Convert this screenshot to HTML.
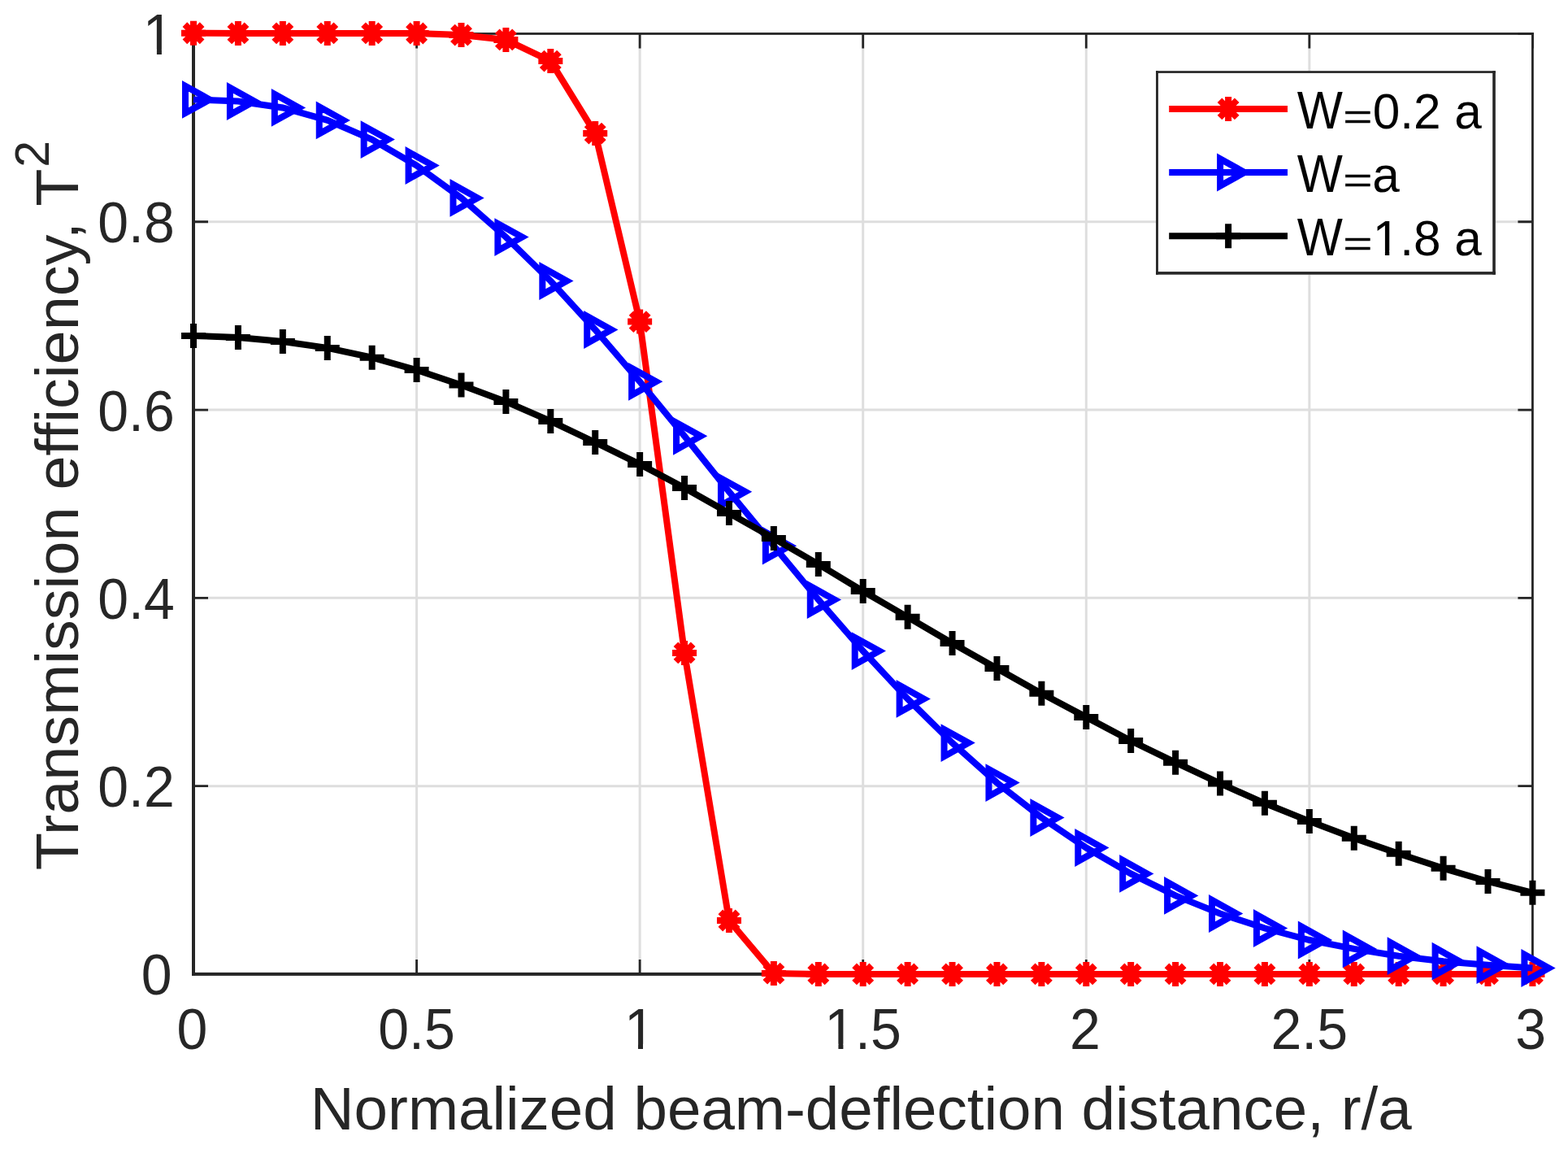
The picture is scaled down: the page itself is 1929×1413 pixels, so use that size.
<!DOCTYPE html>
<html><head><meta charset="utf-8"><title>Transmission efficiency plot</title>
<style>html,body{margin:0;padding:0;background:#fff;}svg{display:block;}
text{font-family:"Liberation Sans",Arial,Helvetica,sans-serif;}</style></head>
<body>
<svg width="1929" height="1413" viewBox="0 0 1929 1413">
<rect x="0" y="0" width="1929" height="1413" fill="#ffffff"/>
<path d="M512.57 41.45V1197.93M787.13 41.45V1197.93M1061.7 41.45V1197.93M1336.27 41.45V1197.93M1610.83 41.45V1197.93M238 966.63H1885.4M238 735.34H1885.4M238 504.04H1885.4M238 272.75H1885.4" stroke="#dedede" stroke-width="3" fill="none"/>
<path d="M238 1197.93V1179.93M238 41.45V59.45M512.57 1197.93V1179.93M512.57 41.45V59.45M787.13 1197.93V1179.93M787.13 41.45V59.45M1061.7 1197.93V1179.93M1061.7 41.45V59.45M1336.27 1197.93V1179.93M1336.27 41.45V59.45M1610.83 1197.93V1179.93M1610.83 41.45V59.45M1885.4 1197.93V1179.93M1885.4 41.45V59.45M238 1197.93H256M1885.4 1197.93H1867.4M238 966.63H256M1885.4 966.63H1867.4M238 735.34H256M1885.4 735.34H1867.4M238 504.04H256M1885.4 504.04H1867.4M238 272.75H256M1885.4 272.75H1867.4M238 41.45H256M1885.4 41.45H1867.4" stroke="#262626" stroke-width="2.8" fill="none"/>
<rect x="236" y="40.05" width="4" height="1159.88" fill="#262626"/>
<rect x="236" y="1195.93" width="1650.8" height="4" fill="#262626"/>
<rect x="236" y="40.05" width="1650.8" height="2.8" fill="#262626"/>
<rect x="1884" y="40.05" width="2.8" height="1159.88" fill="#262626"/>
<polyline points="238,40.8 292.91,40.9 347.83,40.9 402.74,40.9 457.65,40.9 512.57,41 567.48,43.1 622.39,48.9 677.31,75.1 732.22,164.1 787.13,395.6 842.05,802.9 896.96,1132 951.87,1197.1 1006.79,1197.93 1061.7,1197.93 1116.61,1197.93 1171.53,1197.93 1226.44,1197.93 1281.35,1197.93 1336.27,1197.93 1391.18,1197.93 1446.09,1197.93 1501.01,1197.93 1555.92,1197.93 1610.83,1197.93 1665.75,1197.93 1720.66,1197.93 1775.57,1197.93 1830.49,1197.93 1885.4,1197.93" fill="none" stroke="#ff0000" stroke-width="8" stroke-linejoin="miter" stroke-linecap="butt"/><path d="M223 40.8H253M238 25.8V55.8M227.39 30.19L248.61 51.41M227.39 51.41L248.61 30.19M277.91 40.9H307.91M292.91 25.9V55.9M282.31 30.29L303.52 51.51M282.31 51.51L303.52 30.29M332.83 40.9H362.83M347.83 25.9V55.9M337.22 30.29L358.43 51.51M337.22 51.51L358.43 30.29M387.74 40.9H417.74M402.74 25.9V55.9M392.13 30.29L413.35 51.51M392.13 51.51L413.35 30.29M442.65 40.9H472.65M457.65 25.9V55.9M447.05 30.29L468.26 51.51M447.05 51.51L468.26 30.29M497.57 41H527.57M512.57 26V56M501.96 30.39L523.17 51.61M501.96 51.61L523.17 30.39M552.48 43.1H582.48M567.48 28.1V58.1M556.87 32.49L578.09 53.71M556.87 53.71L578.09 32.49M607.39 48.9H637.39M622.39 33.9V63.9M611.79 38.29L633 59.51M611.79 59.51L633 38.29M662.31 75.1H692.31M677.31 60.1V90.1M666.7 64.49L687.91 85.71M666.7 85.71L687.91 64.49M717.22 164.1H747.22M732.22 149.1V179.1M721.61 153.49L742.83 174.71M721.61 174.71L742.83 153.49M772.13 395.6H802.13M787.13 380.6V410.6M776.53 384.99L797.74 406.21M776.53 406.21L797.74 384.99M827.05 802.9H857.05M842.05 787.9V817.9M831.44 792.29L852.65 813.51M831.44 813.51L852.65 792.29M881.96 1132H911.96M896.96 1117V1147M886.35 1121.39L907.57 1142.61M886.35 1142.61L907.57 1121.39M936.87 1197.1H966.87M951.87 1182.1V1212.1M941.27 1186.49L962.48 1207.71M941.27 1207.71L962.48 1186.49M991.79 1197.93H1021.79M1006.79 1182.93V1212.93M996.18 1187.32L1017.39 1208.54M996.18 1208.54L1017.39 1187.32M1046.7 1197.93H1076.7M1061.7 1182.93V1212.93M1051.09 1187.32L1072.31 1208.54M1051.09 1208.54L1072.31 1187.32M1101.61 1197.93H1131.61M1116.61 1182.93V1212.93M1106.01 1187.32L1127.22 1208.54M1106.01 1208.54L1127.22 1187.32M1156.53 1197.93H1186.53M1171.53 1182.93V1212.93M1160.92 1187.32L1182.13 1208.54M1160.92 1208.54L1182.13 1187.32M1211.44 1197.93H1241.44M1226.44 1182.93V1212.93M1215.83 1187.32L1237.05 1208.54M1215.83 1208.54L1237.05 1187.32M1266.35 1197.93H1296.35M1281.35 1182.93V1212.93M1270.75 1187.32L1291.96 1208.54M1270.75 1208.54L1291.96 1187.32M1321.27 1197.93H1351.27M1336.27 1182.93V1212.93M1325.66 1187.32L1346.87 1208.54M1325.66 1208.54L1346.87 1187.32M1376.18 1197.93H1406.18M1391.18 1182.93V1212.93M1380.57 1187.32L1401.79 1208.54M1380.57 1208.54L1401.79 1187.32M1431.09 1197.93H1461.09M1446.09 1182.93V1212.93M1435.49 1187.32L1456.7 1208.54M1435.49 1208.54L1456.7 1187.32M1486.01 1197.93H1516.01M1501.01 1182.93V1212.93M1490.4 1187.32L1511.61 1208.54M1490.4 1208.54L1511.61 1187.32M1540.92 1197.93H1570.92M1555.92 1182.93V1212.93M1545.31 1187.32L1566.53 1208.54M1545.31 1208.54L1566.53 1187.32M1595.83 1197.93H1625.83M1610.83 1182.93V1212.93M1600.23 1187.32L1621.44 1208.54M1600.23 1208.54L1621.44 1187.32M1650.75 1197.93H1680.75M1665.75 1182.93V1212.93M1655.14 1187.32L1676.35 1208.54M1655.14 1208.54L1676.35 1187.32M1705.66 1197.93H1735.66M1720.66 1182.93V1212.93M1710.05 1187.32L1731.27 1208.54M1710.05 1208.54L1731.27 1187.32M1760.57 1197.93H1790.57M1775.57 1182.93V1212.93M1764.97 1187.32L1786.18 1208.54M1764.97 1208.54L1786.18 1187.32M1815.49 1197.93H1845.49M1830.49 1182.93V1212.93M1819.88 1187.32L1841.09 1208.54M1819.88 1208.54L1841.09 1187.32M1870.4 1197.93H1900.4M1885.4 1182.93V1212.93M1874.79 1187.32L1896.01 1208.54M1874.79 1208.54L1896.01 1187.32" fill="none" stroke="#ff0000" stroke-width="8" stroke-linejoin="miter" stroke-miterlimit="10" stroke-linecap="butt"/>
<polyline points="238,122.45 292.91,124.5 347.83,132.45 402.74,147.9 457.65,171.6 512.57,203.5 567.48,243.4 622.39,291.6 677.31,345.5 732.22,405.5 787.13,469.3 842.05,536.3 896.96,604.8 951.87,671.2 1006.79,737.5 1061.7,800.6 1116.61,859.4 1171.53,913.6 1226.44,962.6 1281.35,1005.5 1336.27,1042.5 1391.18,1074.4 1446.09,1101.4 1501.01,1123.5 1555.92,1141.5 1610.83,1156 1665.75,1166.9 1720.66,1175.7 1775.57,1182.2 1830.49,1186.7 1885.4,1190.5" fill="none" stroke="#0000ff" stroke-width="8" stroke-linejoin="miter" stroke-linecap="butt"/><path d="M258 122.45L228 105.85L228 139.05ZM312.91 124.5L282.91 107.9L282.91 141.1ZM367.83 132.45L337.83 115.85L337.83 149.05ZM422.74 147.9L392.74 131.3L392.74 164.5ZM477.65 171.6L447.65 155L447.65 188.2ZM532.57 203.5L502.57 186.9L502.57 220.1ZM587.48 243.4L557.48 226.8L557.48 260ZM642.39 291.6L612.39 275L612.39 308.2ZM697.31 345.5L667.31 328.9L667.31 362.1ZM752.22 405.5L722.22 388.9L722.22 422.1ZM807.13 469.3L777.13 452.7L777.13 485.9ZM862.05 536.3L832.05 519.7L832.05 552.9ZM916.96 604.8L886.96 588.2L886.96 621.4ZM971.87 671.2L941.87 654.6L941.87 687.8ZM1026.79 737.5L996.79 720.9L996.79 754.1ZM1081.7 800.6L1051.7 784L1051.7 817.2ZM1136.61 859.4L1106.61 842.8L1106.61 876ZM1191.53 913.6L1161.53 897L1161.53 930.2ZM1246.44 962.6L1216.44 946L1216.44 979.2ZM1301.35 1005.5L1271.35 988.9L1271.35 1022.1ZM1356.27 1042.5L1326.27 1025.9L1326.27 1059.1ZM1411.18 1074.4L1381.18 1057.8L1381.18 1091ZM1466.09 1101.4L1436.09 1084.8L1436.09 1118ZM1521.01 1123.5L1491.01 1106.9L1491.01 1140.1ZM1575.92 1141.5L1545.92 1124.9L1545.92 1158.1ZM1630.83 1156L1600.83 1139.4L1600.83 1172.6ZM1685.75 1166.9L1655.75 1150.3L1655.75 1183.5ZM1740.66 1175.7L1710.66 1159.1L1710.66 1192.3ZM1795.57 1182.2L1765.57 1165.6L1765.57 1198.8ZM1850.49 1186.7L1820.49 1170.1L1820.49 1203.3ZM1905.4 1190.5L1875.4 1173.9L1875.4 1207.1Z" fill="none" stroke="#0000ff" stroke-width="8" stroke-linejoin="miter" stroke-miterlimit="10" stroke-linecap="butt"/>
<polyline points="238,412.97 292.91,414.9 347.83,420 402.74,427.9 457.65,439.7 512.57,455 567.48,473.45 622.39,493.9 677.31,517.9 732.22,544 787.13,570.9 842.05,599.9 896.96,631 951.87,661.9 1006.79,693.9 1061.7,726.95 1116.61,758.85 1171.53,790.95 1226.44,822.1 1281.35,852.85 1336.27,881.9 1391.18,911 1446.09,937.7 1501.01,963.4 1555.92,987.8 1610.83,1009.9 1665.75,1030.8 1720.66,1049.8 1775.57,1067.8 1830.49,1084 1885.4,1097.8" fill="none" stroke="#000000" stroke-width="8" stroke-linejoin="miter" stroke-linecap="butt"/><path d="M223 412.97H253M238 397.97V427.97M277.91 414.9H307.91M292.91 399.9V429.9M332.83 420H362.83M347.83 405V435M387.74 427.9H417.74M402.74 412.9V442.9M442.65 439.7H472.65M457.65 424.7V454.7M497.57 455H527.57M512.57 440V470M552.48 473.45H582.48M567.48 458.45V488.45M607.39 493.9H637.39M622.39 478.9V508.9M662.31 517.9H692.31M677.31 502.9V532.9M717.22 544H747.22M732.22 529V559M772.13 570.9H802.13M787.13 555.9V585.9M827.05 599.9H857.05M842.05 584.9V614.9M881.96 631H911.96M896.96 616V646M936.87 661.9H966.87M951.87 646.9V676.9M991.79 693.9H1021.79M1006.79 678.9V708.9M1046.7 726.95H1076.7M1061.7 711.95V741.95M1101.61 758.85H1131.61M1116.61 743.85V773.85M1156.53 790.95H1186.53M1171.53 775.95V805.95M1211.44 822.1H1241.44M1226.44 807.1V837.1M1266.35 852.85H1296.35M1281.35 837.85V867.85M1321.27 881.9H1351.27M1336.27 866.9V896.9M1376.18 911H1406.18M1391.18 896V926M1431.09 937.7H1461.09M1446.09 922.7V952.7M1486.01 963.4H1516.01M1501.01 948.4V978.4M1540.92 987.8H1570.92M1555.92 972.8V1002.8M1595.83 1009.9H1625.83M1610.83 994.9V1024.9M1650.75 1030.8H1680.75M1665.75 1015.8V1045.8M1705.66 1049.8H1735.66M1720.66 1034.8V1064.8M1760.57 1067.8H1790.57M1775.57 1052.8V1082.8M1815.49 1084H1845.49M1830.49 1069V1099M1870.4 1097.8H1900.4M1885.4 1082.8V1112.8" fill="none" stroke="#000000" stroke-width="8" stroke-linejoin="miter" stroke-miterlimit="10" stroke-linecap="butt"/>
<rect x="1422.05" y="87.2" width="417.75" height="250.5" fill="#ffffff"/>
<rect x="1422.05" y="87.2" width="2.85" height="250.5" fill="#262626"/>
<rect x="1422.05" y="87.2" width="417.75" height="2.7" fill="#262626"/>
<rect x="1836.2" y="87.2" width="3.6" height="250.5" fill="#262626"/>
<rect x="1422.05" y="334.1" width="417.75" height="3.6" fill="#262626"/>
<path d="M1438.2 133.9H1584" stroke="#ff0000" stroke-width="8" fill="none"/>
<path d="M1496.1 133.9H1526.1M1511.1 118.9V148.9M1500.49 123.29L1521.71 144.51M1500.49 144.51L1521.71 123.29" fill="none" stroke="#ff0000" stroke-width="8" stroke-linejoin="miter" stroke-miterlimit="10"/>
<path d="M1438.2 212H1584" stroke="#0000ff" stroke-width="8" fill="none"/>
<path d="M1531.1 212L1501.1 195.4L1501.1 228.6Z" fill="none" stroke="#0000ff" stroke-width="8" stroke-linejoin="miter" stroke-miterlimit="10"/>
<path d="M1438.2 290.2H1584" stroke="#000000" stroke-width="8" fill="none"/>
<path d="M1496.1 290.2H1526.1M1511.1 275.2V305.2" fill="none" stroke="#000000" stroke-width="8" stroke-linejoin="miter" stroke-miterlimit="10"/>
<defs><clipPath id="c1t" clipPathUnits="userSpaceOnUse"><rect x="-4000" y="-4000" width="8000" height="3993.72"/><rect x="17.1" y="-4000" width="6.01" height="8000"/><rect x="-4000" y="-4000" width="4003.68" height="8000"/><rect x="35.998" y="-4000" width="4000" height="8000"/></clipPath><clipPath id="c1g" clipPathUnits="userSpaceOnUse"><rect x="-4000" y="-4000" width="8000" height="3994.295"/><rect x="15.163" y="-4000" width="5.329" height="8000"/><rect x="-4000" y="-4000" width="4003.093" height="8000"/><rect x="32.092" y="-4000" width="4000" height="8000"/></clipPath></defs>
<text transform="translate(217.54 1290.3) scale(1 1.03)" font-size="68" fill="#262626">0</text>
<text transform="translate(465.28 1290.3) scale(1 1.03)" font-size="68" fill="#262626">0.5</text>
<text transform="translate(767.9 1290.3) scale(1 1.03)" font-size="68" fill="#262626" clip-path="url(#c1t)">1</text>
<text transform="translate(1014.3 1290.3) scale(1 1.03)" font-size="68" fill="#262626" clip-path="url(#c1t)">1.5</text>
<text transform="translate(1315.99 1290.3) scale(1 1.03)" font-size="68" fill="#262626">2</text>
<text transform="translate(1563.48 1290.3) scale(1 1.03)" font-size="68" fill="#262626">2.5</text>
<text transform="translate(1864.29 1290.3) scale(1 1.03)" font-size="68" fill="#262626">3</text>
<text transform="translate(173.74 1223.43) scale(1 1.03)" font-size="68" fill="#262626">0</text>
<text transform="translate(120.24 992.134) scale(1 1.03)" font-size="68" fill="#262626">0.2</text>
<text transform="translate(120.24 760.838) scale(1 1.03)" font-size="68" fill="#262626">0.4</text>
<text transform="translate(120.24 529.542) scale(1 1.03)" font-size="68" fill="#262626">0.6</text>
<text transform="translate(120.24 298.246) scale(1 1.03)" font-size="68" fill="#262626">0.8</text>
<text transform="translate(175.8 66.95) scale(1 1.03)" font-size="68" fill="#262626" clip-path="url(#c1t)">1</text>
<text transform="translate(381.786 1389.4) scale(1.0144 1.0)" font-size="73.5" fill="#262626">Normalized beam-deflection distance, r/a</text>
<g><text transform="translate(96 1070.354) rotate(-90) scale(1.029 1.0)" font-size="73.5" fill="#262626">Transmission efficiency, T</text><text transform="translate(59.8 205.868) rotate(-90) scale(1 1.0)" font-size="59" fill="#262626">2</text></g>
<g><text transform="translate(1595.738 157.7) scale(0.987 1.077)" font-size="60.3" fill="#000000">W</text><text transform="translate(1652.188 158) scale(1.024 0.7)" font-size="60.3" fill="#000000" stroke="#000000" stroke-width="0.5">=</text><text transform="translate(1688.74 157.7) scale(1 1.026)" font-size="60.3" fill="#000000" xml:space="preserve">0.2 a</text></g>
<g><text transform="translate(1595.738 235.9) scale(0.987 1.077)" font-size="60.3" fill="#000000">W</text><text transform="translate(1652.188 236.2) scale(1.024 0.7)" font-size="60.3" fill="#000000" stroke="#000000" stroke-width="0.5">=</text><text transform="translate(1688.2 235.9) scale(1 1.026)" font-size="60.3" fill="#000000" xml:space="preserve">a</text></g>
<g><text transform="translate(1595.738 313.8) scale(0.987 1.077)" font-size="60.3" fill="#000000">W</text><text transform="translate(1652.188 314.1) scale(1.024 0.7)" font-size="60.3" fill="#000000" stroke="#000000" stroke-width="0.5">=</text><text transform="translate(1688.74 313.8) scale(1 1.026)" font-size="60.3" fill="#000000" xml:space="preserve" clip-path="url(#c1g)">1.8 a</text></g>
</svg>
</body></html>
